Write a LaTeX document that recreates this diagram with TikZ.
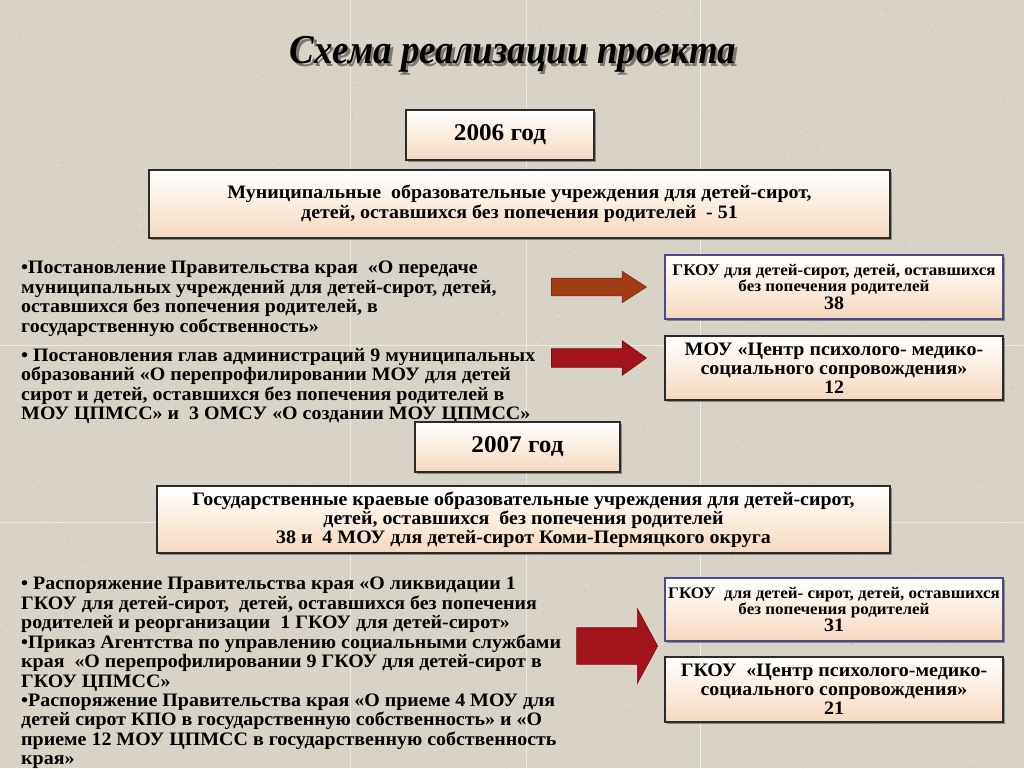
\documentclass[tikz,border=0pt]{standalone}
\usepackage{fontspec}
\setmainfont{Liberation Serif}
\newfontfamily\bodyfont[FakeStretch=1.05]{Liberation Serif}
\newfontfamily\titlefont[FakeStretch=0.9]{Liberation Serif}
\usetikzlibrary{shadows,shapes.arrows}
\definecolor{bgbeige}{HTML}{D9D3C7}
\definecolor{speckdark}{HTML}{A89F90}
\definecolor{specklight}{HTML}{EEEAE2}
\definecolor{peach}{HTML}{F4D8BE}
\definecolor{peachlight}{HTML}{FBEDE0}
\definecolor{arrowbrown}{HTML}{A23C16}
\definecolor{arrowred}{HTML}{A3131B}
\definecolor{navyline}{HTML}{4A4A88}
\definecolor{boxline}{HTML}{2B2B2B}
\definecolor{titleshade}{HTML}{7D786F}
\begin{document}
\begin{tikzpicture}[x=1pt,y=-1pt,
  box/.style={draw=boxline, line width=1.1pt, top color=white, bottom color=peach, middle color=peachlight,
    inner sep=0pt, align=center, text=black,
    drop shadow={shadow xshift=2pt, shadow yshift=-2pt, fill=black, opacity=0.35}},
  navybox/.style={box, draw=navyline},
  yearfont/.style={font=\bodyfont\bfseries\fontsize{24}{26}\selectfont},
  bigfont/.style={font=\bodyfont\bfseries\fontsize{19}{19.6}\selectfont},
  leftfont/.style={font=\bodyfont\bfseries\fontsize{19}{19.45}\selectfont, align=left, inner sep=0pt, anchor=north west, text=black},
  blockarrow/.style={single arrow, inner xsep=0pt, draw=#1!75!black, fill=#1, line width=0.6pt}
]
\useasboundingbox (0,0) rectangle (1024,768);
\fill[bgbeige] (0,0) rectangle (1024,768);
% speckled paper texture
\pgfmathsetseed{7}
\foreach \i in {1,...,900}{
  \pgfmathsetmacro\rx{rnd*1024}\pgfmathsetmacro\ry{rnd*768}
  \fill[speckdark, opacity=0.45] (\rx,\ry) circle (0.7);
}
\foreach \i in {1,...,700}{
  \pgfmathsetmacro\rx{rnd*1024}\pgfmathsetmacro\ry{rnd*768}
  \fill[specklight, opacity=0.6] (\rx,\ry) circle (0.8);
}
% tile seams
\foreach \sx in {350,526,700}{\draw[white, opacity=0.55, line width=0.8pt] (\sx,0) -- (\sx,768);}
\foreach \sy in {345,522}{\draw[white, opacity=0.55, line width=0.8pt] (0,\sy) -- (1024,\sy);}

% title with its shadow in one node
\node[font=\titlefont\bfseries\itshape\fontsize{41}{44}\selectfont] (title) at (513,56)
  {\rlap{\hspace{2.5pt}\raisebox{-3pt}{\textcolor{titleshade}{Схема реализации проекта}}}Схема реализации проекта};

% 2006
\node[box, yearfont, minimum width=188pt, minimum height=50pt] (y2006) at (500,135) {2006 год};
\node[box, bigfont, minimum width=741pt, minimum height=68pt] (mou) at (519.5,204)
  {Муниципальные \ образовательные учреждения для детей-сирот,\\
   детей, оставшихся без попечения родителей \ - 51};

\node[leftfont] (law1) at (21,261)
  {•Постановление Правительства края \ «О передаче\\
   муниципальных учреждений для детей-сирот, детей,\\
   оставшихся без попечения родителей, в\\
   государственную собственность»};
\node[leftfont] (law2) at (21,348)
  {• Постановления глав администраций 9 муниципальных\\
   образований «О перепрофилировании МОУ для детей\\
   сирот и детей, оставшихся без попечения родителей в\\
   МОУ ЦПМСС» и \ 3 ОМСУ «О создании МОУ ЦПМСС»};

\node[navybox, minimum width=338pt, minimum height=64pt] (gkou1) at (834,287)
  {{\bodyfont\bfseries\fontsize{16.2}{16.6}\selectfont ГКОУ для детей-сирот, детей, оставшихся}\\
   {\bodyfont\bfseries\fontsize{16.2}{16.6}\selectfont без попечения родителей}\\
   {\bodyfont\bfseries\fontsize{19}{18}\selectfont 38}};
\node[box, minimum width=338pt, minimum height=64pt, font=\bodyfont\bfseries\fontsize{19}{19}\selectfont] (cpmss1) at (834,368)
  {МОУ «Центр психолого- медико-\\ социального сопровождения»\\ 12};

\node[blockarrow=arrowbrown, minimum height=95pt, minimum width=31pt, inner ysep=8.5pt,
  single arrow head extend=7pt, single arrow tip angle=66, anchor=tip] (arr1) at (647,287) {};
\node[blockarrow=arrowred, minimum height=95pt, minimum width=34pt, inner ysep=9pt,
  single arrow head extend=8pt, single arrow tip angle=71, anchor=tip] (arr2) at (647,358) {};

% 2007
\node[box, yearfont, minimum width=205pt, minimum height=50pt] (y2007) at (517.5,447) {2007 год};
\node[box, font=\bodyfont\bfseries\fontsize{19}{19}\selectfont, minimum width=733pt, minimum height=67pt] (gou) at (523.5,519.5)
  {Государственные краевые образовательные учреждения для детей-сирот,\\
   детей, оставшихся \ без попечения родителей\\
   38 и \ 4 МОУ для детей-сирот Коми-Пермяцкого округа};

\node[leftfont] (law3) at (21,577)
  {• Распоряжение Правительства края «О ликвидации 1\\
   ГКОУ для детей-сирот, \ детей, оставшихся без попечения\\
   родителей и реорганизации \ 1 ГКОУ для детей-сирот»\\
   •Приказ Агентства по управлению социальными службами\\
   края \ «О перепрофилировании 9 ГКОУ для детей-сирот в\\
   ГКОУ ЦПМСС»\\
   •Распоряжение Правительства края «О приеме 4 МОУ для\\
   детей сирот КПО в государственную собственность» и «О\\
   приеме 12 МОУ ЦПМСС в государственную собственность\\
   края»};

\node[navybox, minimum width=338pt, minimum height=63pt] (gkou2) at (834,609.5)
  {{\bodyfont\bfseries\fontsize{16.2}{16.6}\selectfont ГКОУ \ для детей- сирот, детей, оставшихся}\\
   {\bodyfont\bfseries\fontsize{16.2}{16.6}\selectfont без попечения родителей}\\
   {\bodyfont\bfseries\fontsize{19}{18}\selectfont 31}};
\node[box, minimum width=338pt, minimum height=65pt, font=\bodyfont\bfseries\fontsize{19}{19}\selectfont] (cpmss2) at (834,689.5)
  {ГКОУ \ «Центр психолого-медико-\\ социального сопровождения»\\ 21};

\node[blockarrow=arrowred, minimum height=81pt, minimum width=74pt, inner ysep=18pt,
  single arrow head extend=19pt, single arrow tip angle=123, anchor=tip] (arr3) at (658,646) {};
\end{tikzpicture}
\end{document}
